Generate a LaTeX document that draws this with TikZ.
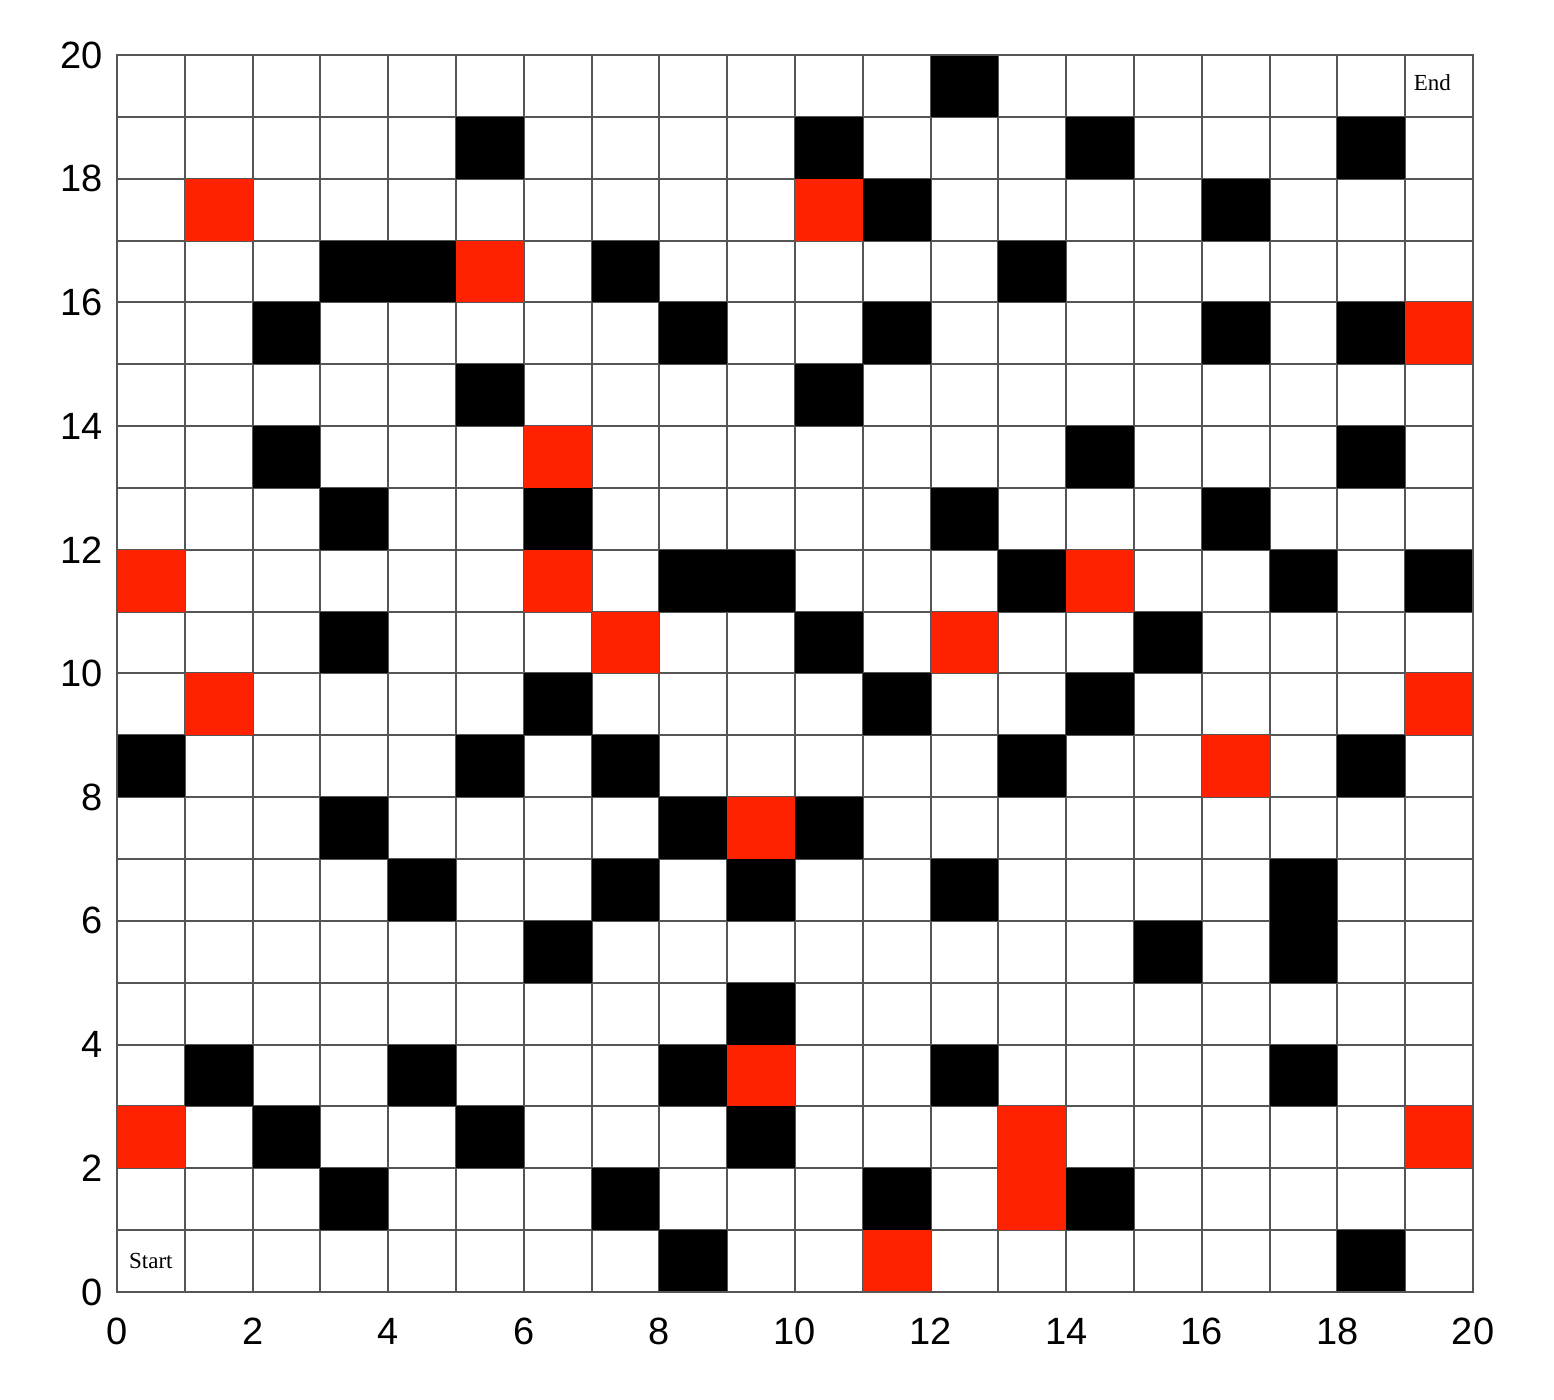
\documentclass[tikz,border=0pt]{standalone}
\usepackage{fontspec}
\setmainfont{Liberation Sans}
\newfontfamily\serifsmall{Liberation Serif}
\definecolor{gridgray}{HTML}{555555}
\definecolor{cellred}{HTML}{FF2200}
\begin{document}
\begin{tikzpicture}[x=33.9pt,y=30.925pt,
  gridline/.style={draw=gridgray,line width=1pt},
  blackcell/.style={fill=black},
  redcell/.style={fill=cellred},
  ticklabel/.style={font=\fontsize{19}{19}\selectfont,inner sep=0pt},
  celltext/.style={font=\serifsmall\fontsize{11.5}{11.5}\selectfont,inner sep=0pt}]
\useasboundingbox (-58.5pt,-54pt) rectangle (718.5pt,646pt);
\fill[white] (-58.5pt,-54pt) rectangle (718.5pt,646pt);
% grid
\foreach \i in {0,...,20} {
  \draw[gridline] (\i,0) -- (\i,20);
  \draw[gridline] (0,\i) -- (20,\i);
}
% black cells
\foreach \c/\r in {12/19,5/18,10/18,14/18,18/18,
  11/17,16/17,
  3/16,4/16,7/16,13/16,
  2/15,8/15,11/15,16/15,18/15,
  5/14,10/14,
  2/13,14/13,18/13,
  3/12,6/12,12/12,16/12,
  8/11,9/11,13/11,17/11,19/11,
  3/10,10/10,15/10,
  6/9,11/9,14/9,
  0/8,5/8,7/8,13/8,18/8,
  3/7,8/7,10/7,
  4/6,7/6,9/6,12/6,17/6,
  6/5,15/5,17/5,
  9/4,
  1/3,4/3,8/3,12/3,17/3,
  2/2,5/2,9/2,
  3/1,7/1,11/1,14/1,
  8/0,18/0}
  \fill[blackcell] (\c,\r) rectangle ++(1,1);
% red cells
\foreach \c/\r in {1/17,10/17,5/16,19/15,6/13,0/11,6/11,14/11,7/10,12/10,
  1/9,19/9,16/8,9/7,9/3,0/2,13/2,19/2,13/1,11/0}
  \fill[redcell] (\c,\r) rectangle ++(1,1);
% frame
\draw[gridline] (0,0) rectangle (20,20);
% tick labels
\foreach \v in {0,2,...,20} {
  \node[ticklabel,anchor=east] (yl\v) at ([xshift=-7pt]0,\v) {\v};
  \node[ticklabel] (xl\v) at ([yshift=-19.5pt]\v,0) {\v};
}
\node[celltext] (start) at (0.5,0.5) {Start};
\node[celltext] (end) at (19.4,19.55) {End};
\end{tikzpicture}
\end{document}
